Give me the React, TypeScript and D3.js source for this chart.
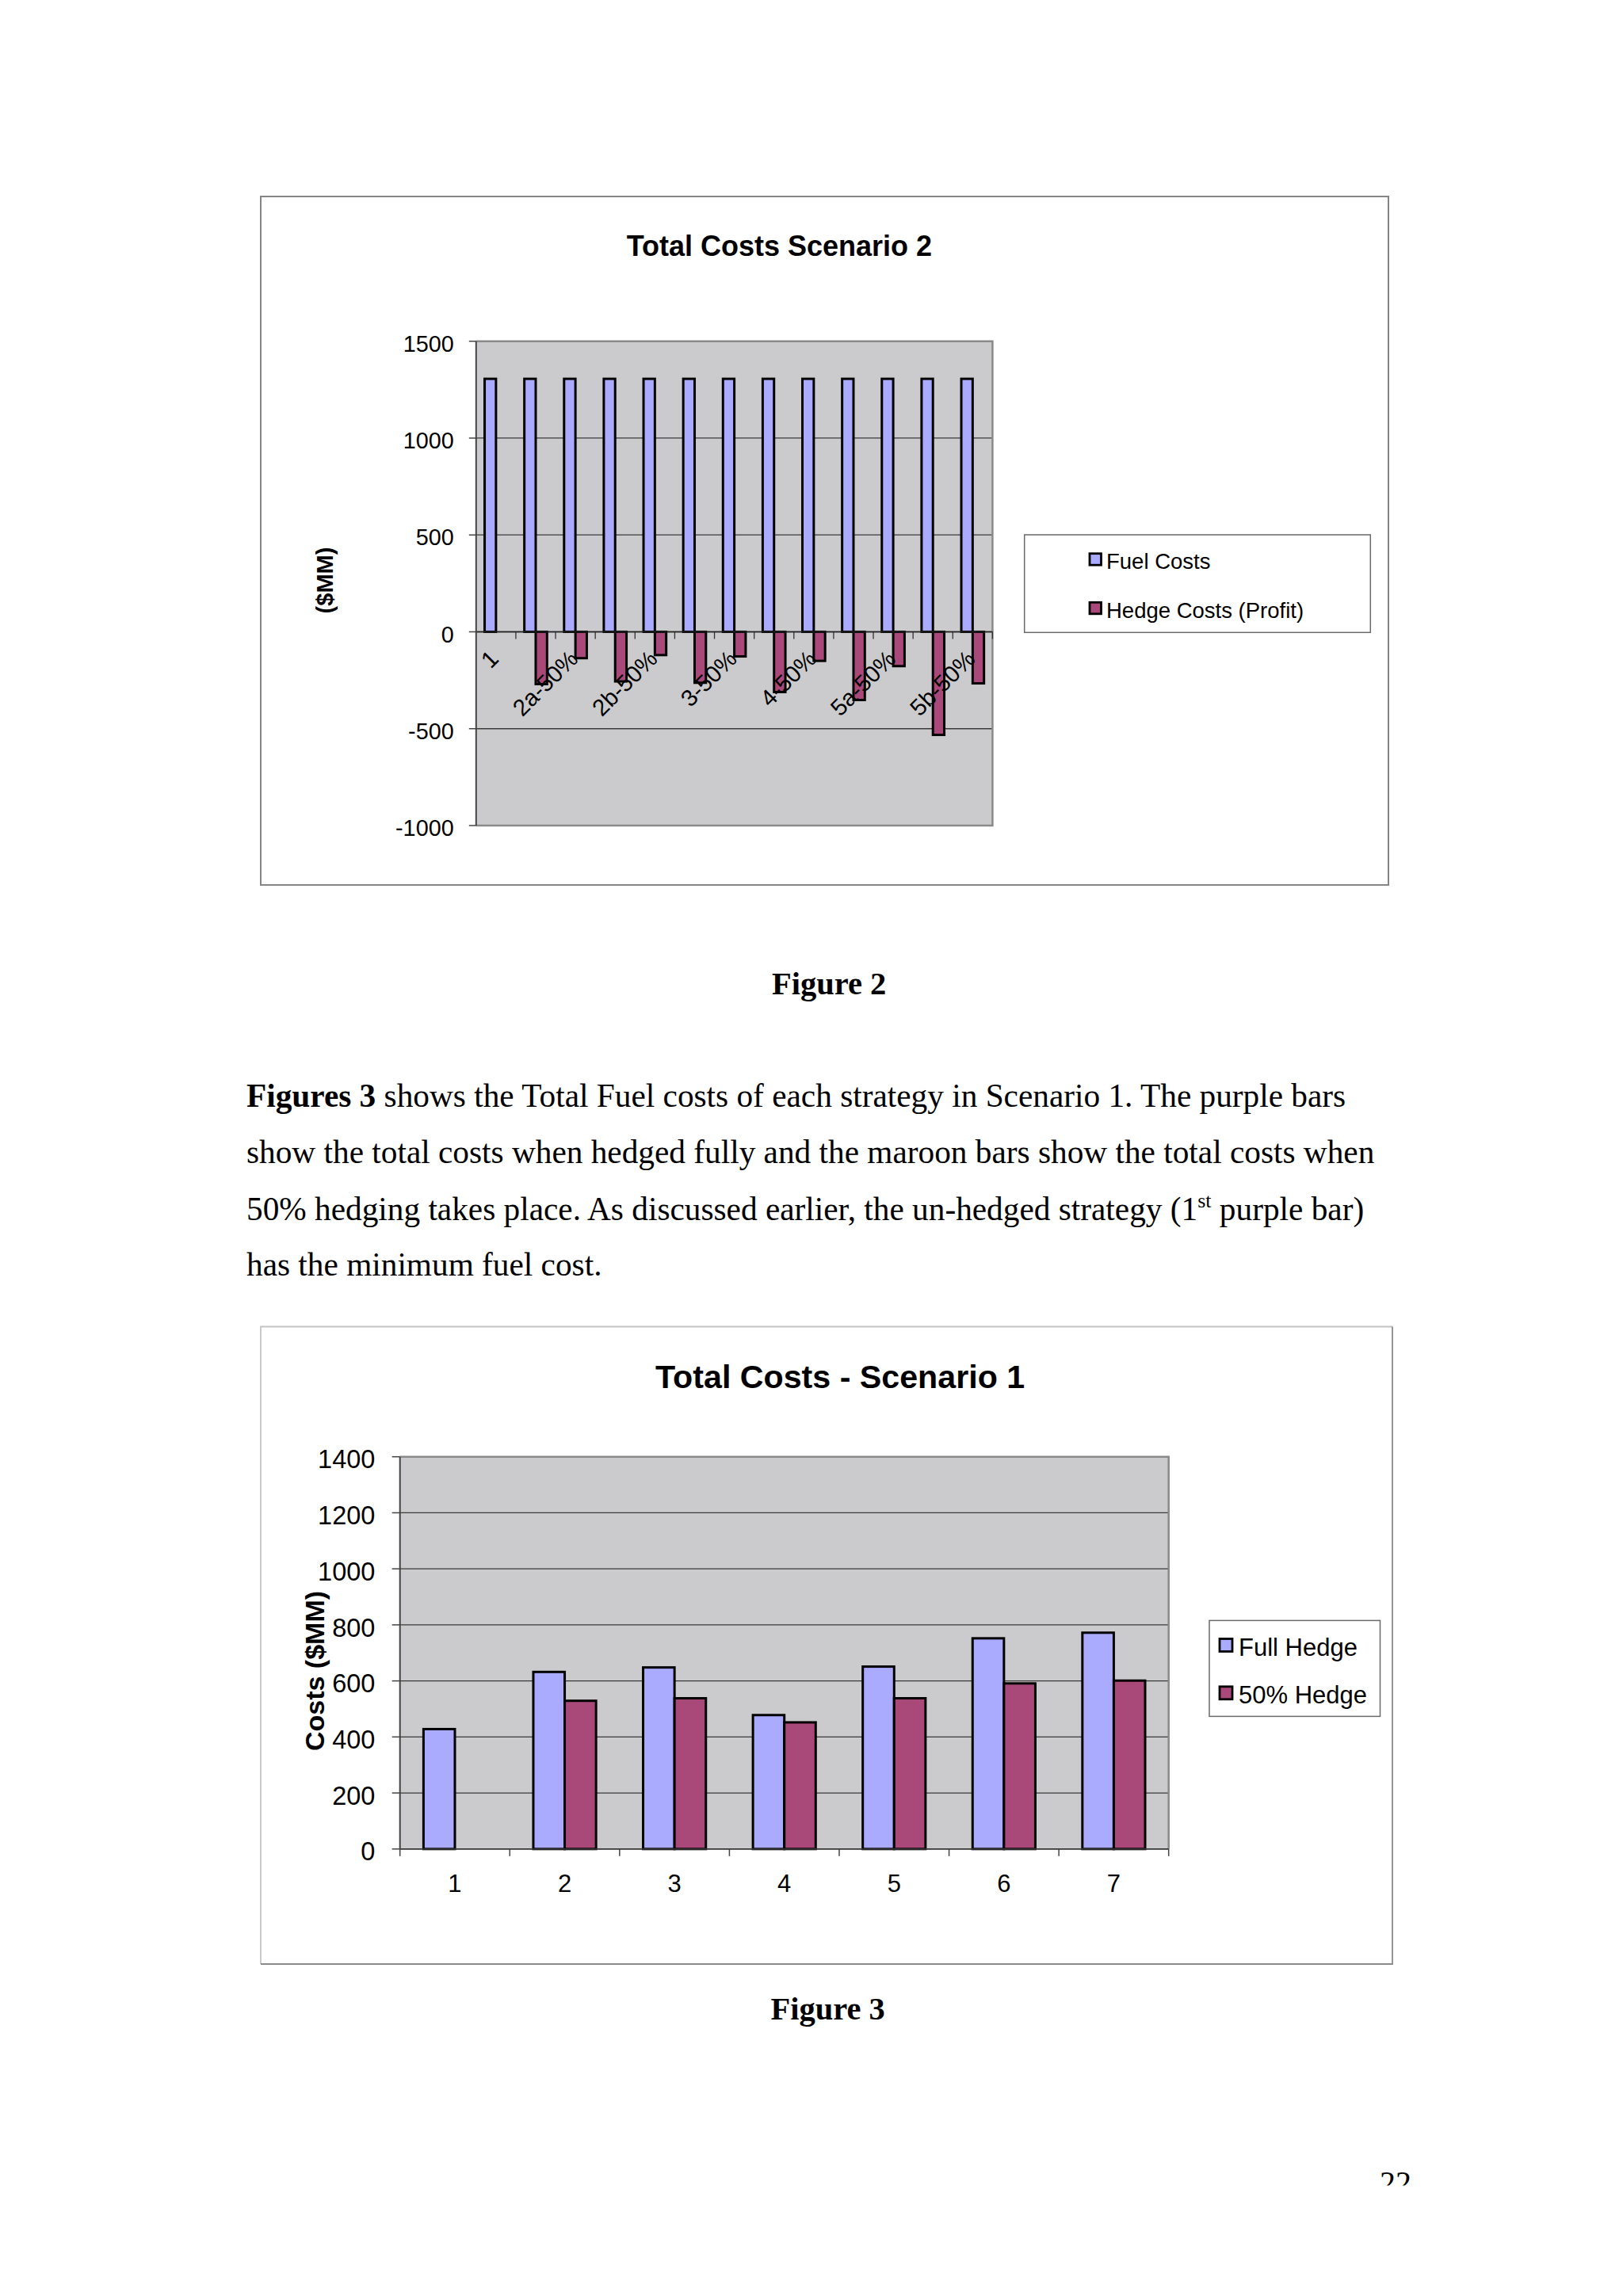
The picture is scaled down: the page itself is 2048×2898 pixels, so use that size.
import React from 'react';
import * as d3 from 'd3';

// ---------- Figure 2: Total Costs Scenario 2 ----------
const s2Categories = ['1', '2a', '2a-50%', '2b', '2b-50%', '3', '3-50%', '4', '4-50%', '5a', '5a-50%', '5b', '5b-50%'];
const s2FuelCosts = [1306, 1306, 1306, 1306, 1306, 1306, 1306, 1306, 1306, 1306, 1306, 1306, 1306];
const s2HedgeCosts = [0, -270, -136, -256, -120, -263, -127, -311, -150, -352, -177, -532, -266];
const s2YTicks = [-1000, -500, 0, 500, 1000, 1500];
const s2Series = ['Fuel Costs', 'Hedge Costs (Profit)'];

// ---------- Figure 3: Total Costs - Scenario 1 ----------
const s1Categories = ['1', '2', '3', '4', '5', '6', '7'];
const s1FullHedge = [428, 632, 648, 478, 651, 752, 772];
const s1HalfHedge: (number | null)[] = [null, 529, 538, 452, 538, 591, 601];
const s1YTicks = [0, 200, 400, 600, 800, 1000, 1200, 1400];
const s1Series = ['Full Hedge', '50% Hedge'];

const BLUE = '#aaaaff';
const MAROON = '#a9497a';
const PLOT_BG = '#cbcbcd';
const SANS = '"Liberation Sans", Arial, sans-serif';
const SERIF = '"Liberation Serif", "Times New Roman", serif';

function barRect(y: d3.ScaleLinear<number, number>, v: number) {
  const y0 = y(0);
  const yv = y(v);
  return { y: Math.min(y0, yv), h: Math.abs(yv - y0) };
}

function Chart1() {
  const P = { left: 600.8, right: 1252.4, top: 430.7, bottom: 1042 };
  const y = d3.scaleLinear().domain([-1000, 1500]).range([P.bottom, P.top]);
  const x = d3.scaleBand<string>().domain(s2Categories).range([P.left, P.right]);
  const bw = x.bandwidth() / 3.5;
  const xs = d3.scaleBand<string>().domain(s2Series).range([-bw, bw]);
  const series = [s2FuelCosts, s2HedgeCosts];
  const colors = [BLUE, MAROON];
  const zero = y(0);
  return (
    <g>
      <rect x={329} y={248} width={1423} height={869} fill="#fff" stroke="#858585" strokeWidth={2} />
      <text x={983.4} y={322.7} textAnchor="middle" fontFamily={SANS} fontWeight="bold" fontSize={36}>Total Costs Scenario 2</text>
      <rect x={P.left} y={P.top} width={P.right - P.left} height={P.bottom - P.top} fill={PLOT_BG} />
      {s2YTicks.filter(t => t !== -1000 && t !== 1500).map(t => (
        <line key={t} x1={P.left} x2={P.right} y1={y(t)} y2={y(t)} stroke="#3a3a3a" strokeWidth={1.3} />
      ))}
      <path d={`M${P.left},${P.top}H${P.right}V${P.bottom}H${P.left}`} fill="none" stroke="#8a8a8a" strokeWidth={2.5} />
      {s2Categories.map((c) => (
        <line key={c} x1={(x(c) as number) + x.bandwidth()} x2={(x(c) as number) + x.bandwidth()} y1={zero} y2={zero + 9} stroke="#333" strokeWidth={1.3} />
      ))}
      {series.map((vals, si) =>
        vals.map((v, i) => {
          const c = s2Categories[i];
          const r = barRect(y, v);
          const cx = (x(c) as number) + x.bandwidth() / 2;
          return (
            <rect key={si + '-' + i} x={cx + (xs(s2Series[si]) as number)} y={r.y} width={bw} height={r.h}
              fill={colors[si]} stroke="#000" strokeWidth={3} />
          );
        })
      )}
      <line x1={P.left} x2={P.right} y1={zero} y2={zero} stroke="#222" strokeWidth={1.5} />
      <line x1={P.left} x2={P.left} y1={P.top} y2={P.bottom} stroke="#444" strokeWidth={2} />
      {s2YTicks.map(t => (
        <g key={t}>
          <line x1={P.left - 9} x2={P.left} y1={y(t)} y2={y(t)} stroke="#444" strokeWidth={1.5} />
          <text x={572.7} y={y(t)} dy="0.46em" textAnchor="end" fontFamily={SANS} fontSize={28.8}>{t}</text>
        </g>
      ))}
      {s2Categories.map((c, i) => i % 2 === 0 ? (
        <text key={c} transform={`translate(${(x(c) as number) + x.bandwidth() / 2 + 5},${zero + 36}) rotate(-45)`}
          textAnchor="end" fontFamily={SANS} fontSize={29.5}>{c}</text>
      ) : null)}
      <text transform="translate(420,732.5) rotate(-90)" textAnchor="middle" fontFamily={SANS} fontWeight="bold" fontSize={29}>($MM)</text>
      <rect x={1292.7} y={675} width={436.6} height={123.3} fill="#fff" stroke="#6a6a6a" strokeWidth={1.5} />
      {s2Series.map((s, i) => (
        <g key={s}>
          <rect x={1375} y={698.7 + i * 61.6} width={14.5} height={14.5} fill={colors[i]} stroke="#000" strokeWidth={2.8} />
          <text x={1396} y={718.3 + i * 61.7} fontFamily={SANS} fontSize={27.5}>{s}</text>
        </g>
      ))}
    </g>
  );
}

function Chart2() {
  const P = { left: 504.7, right: 1474.7, top: 1838.7, bottom: 2333.8 };
  const y = d3.scaleLinear().domain([0, 1400]).range([P.bottom, P.top]);
  const x = d3.scaleBand<string>().domain(s1Categories).range([P.left, P.right]);
  const bw = x.bandwidth() / 3.5;
  const xs = d3.scaleBand<string>().domain(s1Series).range([-bw, bw]);
  const series = [s1FullHedge, s1HalfHedge];
  const colors = [BLUE, MAROON];
  return (
    <g>
      <rect x={329} y={1674.5} width={1428} height={804.5} fill="#fff" />
      <path d="M329,2479V1674.5H1757" fill="none" stroke="#c4c4c4" strokeWidth={1.8} />
      <path d="M1757,1674.5V2479H329" fill="none" stroke="#8a8a8a" strokeWidth={1.8} />
      <text x={827} y={1751.5} fontFamily={SANS} fontWeight="bold" fontSize={41.2}>Total Costs - Scenario 1</text>
      <rect x={P.left} y={P.top} width={P.right - P.left} height={P.bottom - P.top} fill={PLOT_BG} />
      {s1YTicks.filter(t => t !== 0 && t !== 1400).map(t => (
        <line key={t} x1={P.left} x2={P.right} y1={y(t)} y2={y(t)} stroke="#3a3a3a" strokeWidth={1.3} />
      ))}
      <path d={`M${P.left},${P.top}H${P.right}V${P.bottom}`} fill="none" stroke="#8a8a8a" strokeWidth={2.5} />
      {series.map((vals, si) =>
        vals.map((v, i) => {
          if (v === null) return null;
          const c = s1Categories[i];
          const r = barRect(y, v);
          const cx = (x(c) as number) + x.bandwidth() / 2;
          return (
            <rect key={si + '-' + i} x={cx + (xs(s1Series[si]) as number)} y={r.y} width={bw} height={r.h}
              fill={colors[si]} stroke="#000" strokeWidth={3} />
          );
        })
      )}
      <line x1={P.left} x2={P.right} y1={P.bottom} y2={P.bottom} stroke="#333" strokeWidth={1.8} />
      <line x1={P.left} x2={P.left} y1={P.top} y2={P.bottom} stroke="#444" strokeWidth={2} />
      {[P.left, ...s1Categories.map(c => (x(c) as number) + x.bandwidth())].map((bx, i) => (
        <line key={i} x1={bx} x2={bx} y1={P.bottom} y2={P.bottom + 9} stroke="#444" strokeWidth={1.5} />
      ))}
      {s1YTicks.map(t => (
        <g key={t}>
          <line x1={P.left - 10} x2={P.left} y1={y(t)} y2={y(t)} stroke="#444" strokeWidth={1.5} />
          <text x={473.4} y={y(t)} dy="0.45em" textAnchor="end" fontFamily={SANS} fontSize={32.5}>{t}</text>
        </g>
      ))}
      {s1Categories.map(c => (
        <text key={c} x={(x(c) as number) + x.bandwidth() / 2} y={2388.2} textAnchor="middle" fontFamily={SANS} fontSize={31}>{c}</text>
      ))}
      <text transform="translate(409,2109) rotate(-90)" textAnchor="middle" fontFamily={SANS} fontWeight="bold" fontSize={34}>Costs ($MM)</text>
      <rect x={1526} y={2045.4} width={215.5} height={121} fill="#fff" stroke="#6a6a6a" strokeWidth={1.5} />
      {s1Series.map((s, i) => (
        <g key={s}>
          <rect x={1539} y={2068.5 + i * 60.3} width={16} height={16} fill={colors[i]} stroke="#000" strokeWidth={2.8} />
          <text x={1563} y={2089.7 + i * 60.1} fontFamily={SANS} fontSize={31}>{s}</text>
        </g>
      ))}
    </g>
  );
}

export default function App() {
  const fs = 41.3;
  return (
    <svg width={2048} height={2898} viewBox="0 0 2048 2898" style={{ position: 'absolute', left: 0, top: 0, background: '#fff' }}>
      <rect x={0} y={0} width={2048} height={2898} fill="#fff" />
      <Chart1 />
      <text x={974} y={1255} fontFamily={SERIF} fontWeight="bold" fontSize={40.5}>Figure 2</text>
      <g fontFamily={SERIF} fontSize={fs}>
        <text x={311} y={1397}><tspan fontWeight="bold">Figures 3</tspan> shows the Total Fuel costs of each strategy in Scenario 1. The purple bars</text>
        <text x={311} y={1468.4}>show the total costs when hedged fully and the maroon bars show the total costs when</text>
        <text x={311} y={1539.7}>50% hedging takes place. As discussed earlier, the un-hedged strategy (1<tspan fontSize={26} dy={-16}>st</tspan><tspan dy={16}> purple bar)</tspan></text>
        <text x={311} y={1610.4}>has the minimum fuel cost.</text>
      </g>
      <Chart2 />
      <text x={972.4} y={2548.7} fontFamily={SERIF} fontWeight="bold" fontSize={40.5}>Figure 3</text>
      <defs>
        <clipPath id="pgclip"><rect x={1700} y={2700} width={120} height={58.5} /></clipPath>
      </defs>
      <text x={1741} y={2768} clipPath="url(#pgclip)" fontFamily={SERIF} fontSize={40}>22</text>
    </svg>
  );
}
